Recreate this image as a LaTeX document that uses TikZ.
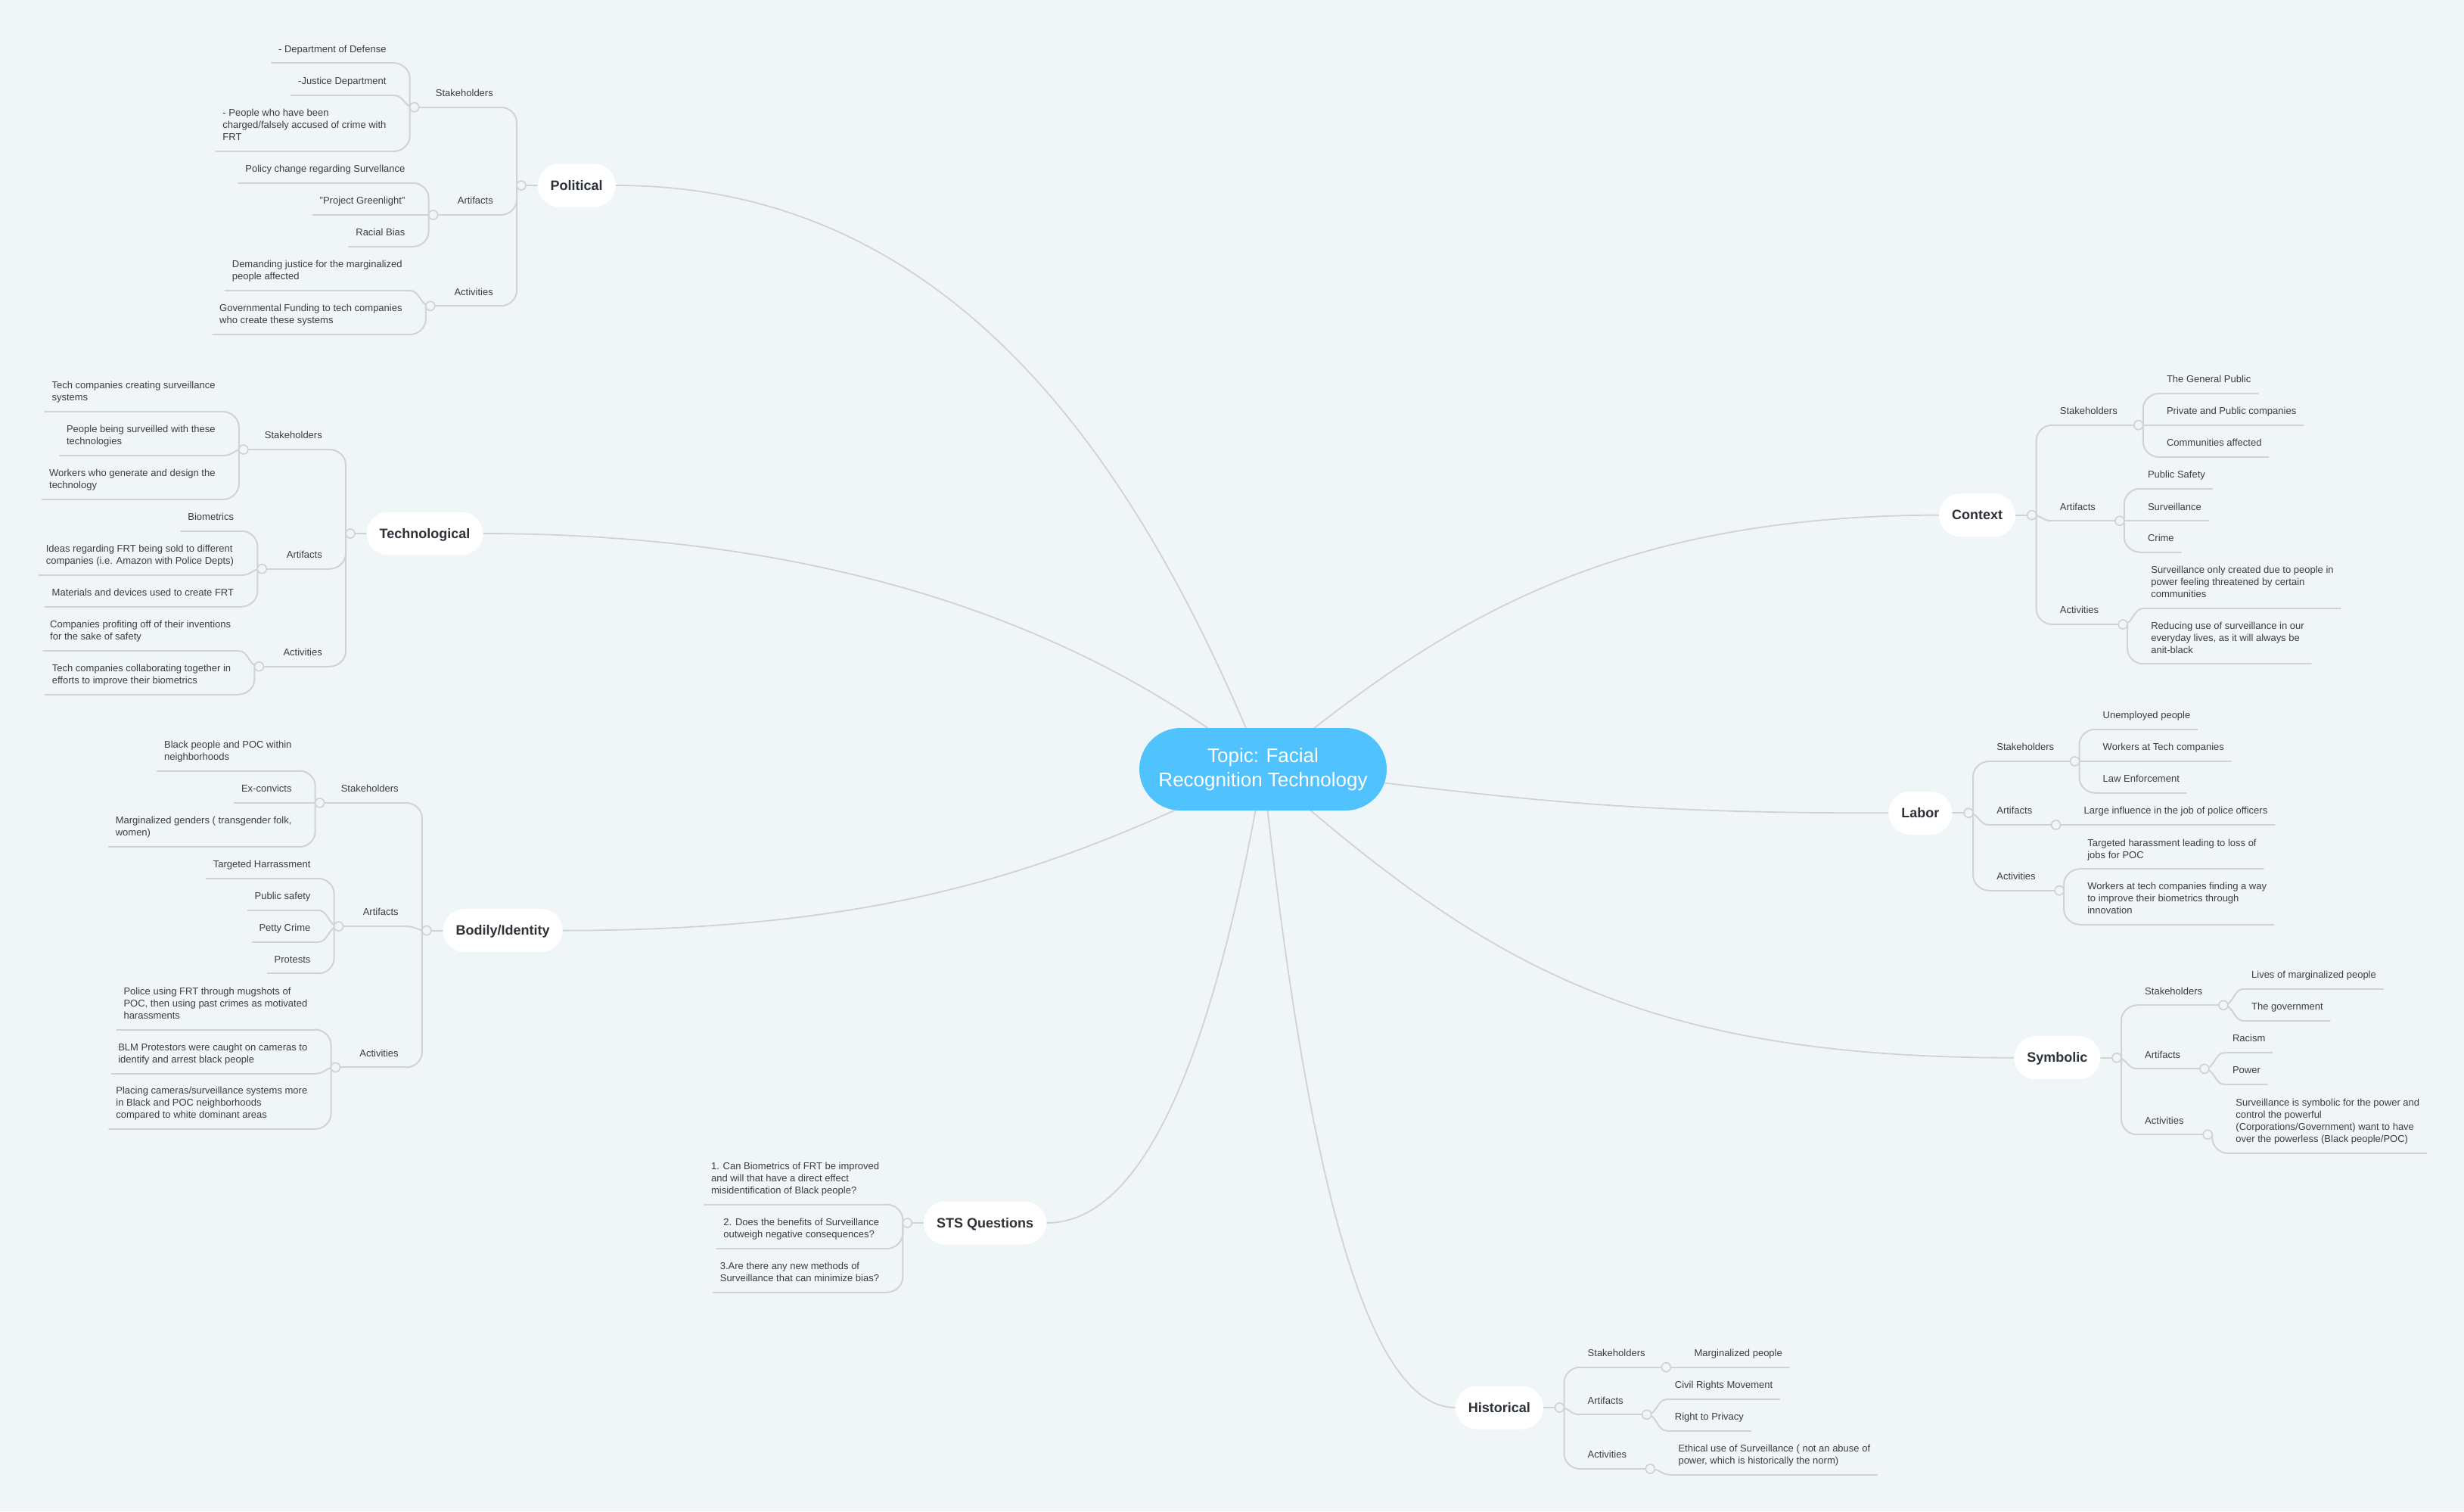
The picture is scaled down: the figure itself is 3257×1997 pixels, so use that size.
\documentclass[tikz,border=0pt]{standalone}
\usepackage{fontspec}
\setmainfont{Liberation Sans}
\usetikzlibrary{calc}
\pgfdeclarelayer{bg}
\pgfdeclarelayer{lines}
\pgfsetlayers{bg,lines,main}
\definecolor{bgc}{RGB}{240,245,248}
\definecolor{lnc}{RGB}{208,211,214}
\definecolor{txc}{RGB}{58,62,68}
\definecolor{tpc}{RGB}{44,50,56}
\definecolor{ctr}{RGB}{80,195,255}
\tikzset{
  br/.style={draw=lnc, line width=2pt, line cap=round},
  mainln/.style={draw=lnc, line width=1.8pt},
  junc/.style={circle, draw=lnc, line width=1.7pt, fill=bgc, minimum size=12pt, inner sep=0pt},
  lab/.style={font=\fontsize{13}{16}\selectfont, text=txc, inner sep=0pt, align=left},
  topic/.style={rounded corners=28.5pt, fill=white, minimum height=57pt, inner xsep=17pt, inner ysep=0pt,
    font=\fontsize{18}{22}\selectfont\bfseries, text=tpc, text height=13pt, text depth=1pt},
  central/.style={rounded corners=54.5pt, fill=ctr, minimum width=327pt, minimum height=109pt,
    text=white, align=center, font=\fontsize{26}{32.3}\selectfont, inner sep=0pt},
}
% connector from a junction (jx,jy) to an underline at height uy, going left
\newcommand{\curveL}[3]{%
  \pgfmathsetmacro{\mcD}{#3-(#2)}%
  \pgfmathsetmacro{\mcA}{abs(\mcD)}%
  \ifdim\mcA pt<0.5pt\relax
    \draw[br] (#1,#2) -- ({#1-27},#3);%
  \else
    \ifdim\mcA pt<24pt\relax
      \draw[br] (#1,#2) .. controls ({#1-13.5},#2) and ({#1-13.5},#3) .. ({#1-27},#3);%
    \else
      \pgfmathsetmacro{\mcS}{\mcD/\mcA}%
      \draw[br] ({#1-6},#2) -- ({#1-6},{#3-\mcS*20}) .. controls ({#1-6},{#3-\mcS*9}) and ({#1-16},#3) .. ({#1-27},#3);%
    \fi
  \fi}
\newcommand{\curveR}[3]{%
  \pgfmathsetmacro{\mcD}{#3-(#2)}%
  \pgfmathsetmacro{\mcA}{abs(\mcD)}%
  \ifdim\mcA pt<0.5pt\relax
    \draw[br] (#1,#2) -- ({#1+27},#3);%
  \else
    \ifdim\mcA pt<24pt\relax
      \draw[br] (#1,#2) .. controls ({#1+13.5},#2) and ({#1+13.5},#3) .. ({#1+27},#3);%
    \else
      \pgfmathsetmacro{\mcS}{\mcD/\mcA}%
      \draw[br] ({#1+6},#2) -- ({#1+6},{#3-\mcS*20}) .. controls ({#1+6},{#3-\mcS*9}) and ({#1+16},#3) .. ({#1+27},#3);%
    \fi
  \fi}
% main topics
\newcommand{\topicL}[4]{%
  \node[topic, anchor=west] (#1) at ({#2+21.5},#3) {#4};
  \node[junc] (#1j) at (#2,#3) {};
  \begin{pgfonlayer}{lines}\draw[br] (#1j) -- (#1.west);\end{pgfonlayer}}
\newcommand{\topicR}[4]{%
  \node[topic, anchor=east] (#1) at ({#2-21.5},#3) {#4};
  \node[junc] (#1j) at (#2,#3) {};
  \begin{pgfonlayer}{lines}\draw[br] (#1j) -- (#1.east);\end{pgfonlayer}}
% second level: name, parent jx, parent jy, uy, own jx, text
\newcommand{\subL}[6]{%
  \node[lab, anchor=south east] (#1) at ({#2-37},{#4-9.3}) {#6\strut};
  \node[junc] (#1j) at (#5,#4) {};
  \begin{pgfonlayer}{lines}
    \curveL{#2}{#3}{#4}
    \draw[br] ({#2-27},#4) -- (#1j.center);
  \end{pgfonlayer}}
\newcommand{\subR}[6]{%
  \node[lab, anchor=south west] (#1) at ({#2+37},{#4-9.3}) {#6\strut};
  \node[junc] (#1j) at (#5,#4) {};
  \begin{pgfonlayer}{lines}
    \curveR{#2}{#3}{#4}
    \draw[br] ({#2+27},#4) -- (#1j.center);
  \end{pgfonlayer}}
% leaves: name, jx, jy, uy, text
\newcommand{\leafL}[5]{%
  \node[lab, anchor=south east] (#1) at ({#2-37},{#4-9.3}) {#5\strut};
  \begin{pgfonlayer}{lines}
    \curveL{#2}{#3}{#4}
    \draw[br] let \p1=(#1.west) in ({#2-27},#4) -- (\x1-9pt,-#4pt);
  \end{pgfonlayer}}
\newcommand{\leafR}[5]{%
  \node[lab, anchor=south west] (#1) at ({#2+37},{#4-9.3}) {#5\strut};
  \begin{pgfonlayer}{lines}
    \curveR{#2}{#3}{#4}
    \draw[br] let \p1=(#1.east) in ({#2+27},#4) -- (\x1+9pt,-#4pt);
  \end{pgfonlayer}}

\begin{document}
\begin{tikzpicture}[x=1pt,y=-1pt]
\begin{pgfonlayer}{bg}
\fill[bgc] (0,0) rectangle (3257,1997);
\end{pgfonlayer}
\useasboundingbox (0,0) rectangle (3257,1997);

\node[central] (c) at (1669.5,1016.5) {Topic: Facial\\Recognition Technology};

% ---------------- Political
\topicL{nPol}{689}{245}{Political}
\subL{polS}{689}{245}{141.7}{547.7}{Stakeholders}
\leafL{polS1}{547.7}{141.7}{83.3}{- Department of Defense}
\leafL{polS2}{547.7}{141.7}{126}{-Justice Department}
\leafL{polS3}{547.7}{141.7}{200}{- People who have been\\charged/falsely accused of crime with\\FRT}
\subL{polA}{689}{245}{284}{572.6}{Artifacts}
\leafL{polA1}{572.6}{284}{241.7}{Policy change regarding Survellance}
\leafL{polA2}{572.6}{284}{284}{"Project Greenlight"}
\leafL{polA3}{572.6}{284}{326}{Racial Bias}
\subL{polT}{689}{245}{404.3}{568.8}{Activities}
\leafL{polT1}{568.8}{404.3}{384}{Demanding justice for the marginalized\\people affected}
\leafL{polT2}{568.8}{404.3}{442}{Governmental Funding to tech companies\\who create these systems}

% ---------------- Technological
\topicL{nTec}{463}{705}{Technological}
\subL{tecS}{463}{705}{594}{321.8}{Stakeholders}
\leafL{tecS1}{321.8}{594}{544}{Tech companies creating surveillance\\systems}
\leafL{tecS2}{321.8}{594}{602}{People being surveilled with these\\technologies}
\leafL{tecS3}{321.8}{594}{660}{Workers who generate and design the\\technology}
\subL{tecA}{463}{705}{751.7}{346.3}{Artifacts}
\leafL{tecA1}{346.3}{751.7}{701.7}{Biometrics}
\leafL{tecA2}{346.3}{751.7}{760}{Ideas regarding FRT being sold to different\\companies (i.e. Amazon with Police Depts)}
\leafL{tecA3}{346.3}{751.7}{801.7}{Materials and devices used to create FRT}
\subL{tecT}{463}{705}{880.7}{342.4}{Activities}
\leafL{tecT1}{342.4}{880.7}{860}{Companies profiting off of their inventions\\for the sake of safety}
\leafL{tecT2}{342.4}{880.7}{917.7}{Tech companies collaborating together in\\efforts to improve their biometrics}

% ---------------- Bodily/Identity
\topicL{nBod}{563.9}{1229.6}{Bodily/Identity}
\subL{bodS}{563.9}{1229.6}{1060.9}{422.7}{Stakeholders}
\leafL{bodS1}{422.7}{1060.9}{1018.5}{Black people and POC within\\neighborhoods}
\leafL{bodS2}{422.7}{1060.9}{1060.9}{Ex-convicts}
\leafL{bodS3}{422.7}{1060.9}{1119.1}{Marginalized genders ( transgender folk,\\women)}
\subL{bodA}{563.9}{1229.6}{1224.1}{447.6}{Artifacts}
\leafL{bodA1}{447.6}{1224.1}{1160.8}{Targeted Harrassment}
\leafL{bodA2}{447.6}{1224.1}{1202.8}{Public safety}
\leafL{bodA3}{447.6}{1224.1}{1244.8}{Petty Crime}
\leafL{bodA4}{447.6}{1224.1}{1286.4}{Protests}
\subL{bodT}{563.9}{1229.6}{1410.4}{443.5}{Activities}
\leafL{bodT1}{443.5}{1410.4}{1360.5}{Police using FRT through mugshots of\\POC, then using past crimes as motivated\\harassments}
\leafL{bodT2}{443.5}{1410.4}{1418.7}{BLM Protestors were caught on cameras to\\identify and arrest black people}
\leafL{bodT3}{443.5}{1410.4}{1492}{Placing cameras/surveillance systems more\\in Black and POC neighborhoods\\compared to white dominant areas}

% ---------------- STS Questions
\topicL{nSts}{1199.3}{1616}{STS Questions}
\leafL{sts1}{1199.3}{1616}{1591.7}{1. Can Biometrics of FRT be improved\\and will that have a direct effect\\misidentification of Black people?}
\leafL{sts2}{1199.3}{1616}{1650}{2. Does the benefits of Surveillance\\outweigh negative consequences?}
\leafL{sts3}{1199.3}{1616}{1707.7}{3.Are there any new methods of\\Surveillance that can minimize bias?}

% ---------------- Context
\topicR{nCon}{2685.7}{680.7}{Context}
\subR{conS}{2685.7}{680.7}{561.7}{2826.8}{Stakeholders}
\leafR{conS1}{2826.8}{561.7}{520}{The General Public}
\leafR{conS2}{2826.8}{561.7}{561.7}{Private and Public companies}
\leafR{conS3}{2826.8}{561.7}{604}{Communities affected}
\subR{conA}{2685.7}{680.7}{688.3}{2801.8}{Artifacts}
\leafR{conA1}{2801.8}{688.3}{645.7}{Public Safety}
\leafR{conA2}{2801.8}{688.3}{688.3}{Surveillance}
\leafR{conA3}{2801.8}{688.3}{729.7}{Crime}
\subR{conT}{2685.7}{680.7}{825}{2806.1}{Activities}
\leafR{conT1}{2806.1}{825}{804}{Surveillance only created due to people in\\power feeling threatened by certain\\communities}
\leafR{conT2}{2806.1}{825}{877.3}{Reducing use of surveillance in our\\everyday lives, as it will always be\\anit-black}

% ---------------- Labor
\topicR{nLab}{2602.1}{1074.3}{Labor}
\subR{labS}{2602.1}{1074.3}{1006}{2742.5}{Stakeholders}
\leafR{labS1}{2742.5}{1006}{963.7}{Unemployed people}
\leafR{labS2}{2742.5}{1006}{1006}{Workers at Tech companies}
\leafR{labS3}{2742.5}{1006}{1047.7}{Law Enforcement}
\subR{labA}{2602.1}{1074.3}{1090}{2717.5}{Artifacts}
\leafR{labA1}{2717.5}{1090}{1090}{Large influence in the job of police officers}
\subR{labT}{2602.1}{1074.3}{1176.7}{2722.1}{Activities}
\leafR{labT1}{2722.1}{1176.7}{1148.3}{Targeted harassment leading to loss of\\jobs for POC}
\leafR{labT2}{2722.1}{1176.7}{1221.7}{Workers at tech companies finding a way\\to improve their biometrics through\\innovation}

% ---------------- Symbolic
\topicR{nSym}{2798}{1397.7}{Symbolic}
\subR{symS}{2798}{1397.7}{1328.3}{2938.9}{Stakeholders}
\leafR{symS1}{2938.9}{1328.3}{1306.7}{Lives of marginalized people}
\leafR{symS2}{2938.9}{1328.3}{1349}{The government}
\subR{symA}{2798}{1397.7}{1412.3}{2913.8}{Artifacts}
\leafR{symA1}{2913.8}{1412.3}{1391}{Racism}
\leafR{symA2}{2913.8}{1412.3}{1433}{Power}
\subR{symT}{2798}{1397.7}{1499.3}{2918.2}{Activities}
\leafR{symT1}{2918.2}{1499.3}{1524}{Surveillance is symbolic for the power and\\control the powerful\\(Corporations/Government) want to have\\over the powerless (Black people/POC)}

% ---------------- Historical
\topicR{nHis}{2061.5}{1860}{Historical}
\subR{hisS}{2061.5}{1860}{1806.7}{2202.3}{Stakeholders}
\leafR{hisS1}{2202.3}{1806.7}{1806.7}{Marginalized people}
\subR{hisA}{2061.5}{1860}{1869.3}{2176.7}{Artifacts}
\leafR{hisA1}{2176.7}{1869.3}{1849}{Civil Rights Movement}
\leafR{hisA2}{2176.7}{1869.3}{1890.7}{Right to Privacy}
\subR{hisT}{2061.5}{1860}{1941}{2181.3}{Activities}
\leafR{hisT1}{2181.3}{1941}{1948.7}{Ethical use of Surveillance ( not an abuse of\\power, which is historically the norm)}

% ---------------- main connectors
\begin{pgfonlayer}{lines}
\draw[mainln] (c.center) .. controls (1508.7,617.9) and (1263.7,244.7) .. (nPol.east);
\draw[mainln] (c.center) .. controls (1475,859.5) and (1154.1,705.3) .. (nTec.east);
\draw[mainln] (c.center) .. controls (1424.5,1133) and (1210.4,1229.6) .. (nBod.east);
\draw[mainln] (c.center) .. controls (1611.9,1346.2) and (1525.7,1616) .. (nSts.east);
\draw[mainln] (c.center) .. controls (1719.5,1480.5) and (1794.1,1860) .. (nHis.west);
\draw[mainln] (c.center) .. controls (1954.5,1267.3) and (2158.5,1398) .. (nSym.west);
\draw[mainln] (c.center) .. controls (1969.5,1048.5) and (2094.3,1075) .. (nLab.west);
\draw[mainln] (c.center) .. controls (1894.5,831.5) and (2115.1,681) .. (nCon.west);
\end{pgfonlayer}
\end{tikzpicture}
\end{document}
